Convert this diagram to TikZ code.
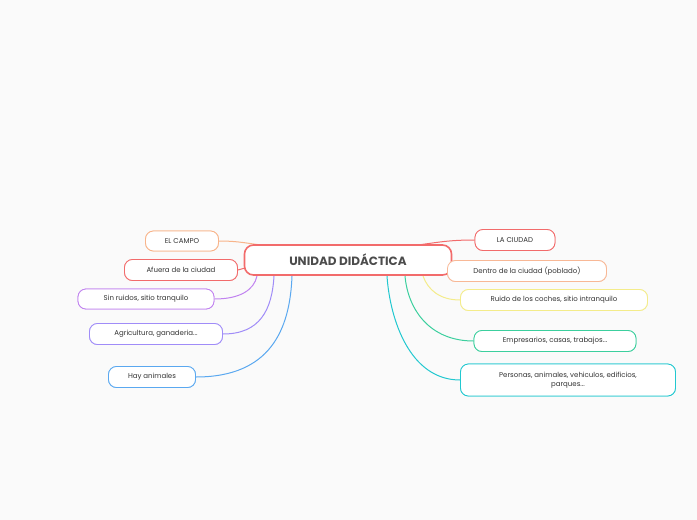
\documentclass[tikz,border=0pt]{standalone}
\usepackage{fontspec}
\setmainfont{Poppins}
\begin{document}
\begin{tikzpicture}[x=1pt,y=-1pt,
  box/.style={draw=#1,rounded corners=8pt,line width=0.8pt,fill=white,font=\fontsize{7}{8.5}\selectfont,text=black!80,inner sep=0pt,align=center},
  con/.style={draw=#1,line width=1pt}]
\fill[white!98!black] (0,0) rectangle (697,520);
\useasboundingbox (0,0) rectangle (697,520);
\definecolor{cred}{HTML}{F26B6B}
\definecolor{corange}{HTML}{F8B48A}
\definecolor{cpurple}{HTML}{C183F0}
\definecolor{cviolet}{HTML}{A08CF8}
\definecolor{cblue}{HTML}{5AA8F0}
\definecolor{cpeach}{HTML}{F8B896}
\definecolor{cyellow}{HTML}{F4EC8A}
\definecolor{cgreen}{HTML}{3CCF9E}
\definecolor{ccyan}{HTML}{22C8D0}
% connectors
\coordinate (c1) at (262,245);
\coordinate (c2) at (418,245);
\coordinate (c3) at (245,268);
\coordinate (c4) at (257,276);
\coordinate (c5) at (274,276);
\coordinate (c6) at (292,276);
\coordinate (c7) at (451,263);
\coordinate (c8) at (423,276);
\coordinate (c9) at (405,276);
\coordinate (c10) at (387,276);
\node[box=corange,minimum width=73pt,minimum height=20pt] (n1) at (182,241) {EL CAMPO};
\node[box=cred,minimum width=113pt,minimum height=21pt] (n2) at (181,270) {Afuera de la ciudad};
\node[box=cpurple,minimum width=136pt,minimum height=20pt] (n3) at (146,299) {Sin ruidos, sitio tranquilo};
\node[box=cviolet,minimum width=133pt,minimum height=21pt] (n4) at (156,334) {Agricultura, ganaderia...};
\node[box=cblue,minimum width=87pt,minimum height=21pt] (n5) at (152,377) {Hay animales};
\node[box=cred,minimum width=80pt,minimum height=21pt] (m1) at (515,240) {LA CIUDAD};
\node[box=cpeach,minimum width=159pt,minimum height=21pt] (m2) at (527,271) {Dentro de la ciudad (poblado)};
\node[box=cyellow,minimum width=187pt,minimum height=21pt] (m3) at (554,300) {Ruido de los coches, sitio intranquilo};
\node[box=cgreen,minimum width=162pt,minimum height=21pt] (m4) at (555,341) {Empresarios, casas, trabajos...};
\node[box=ccyan,minimum width=215pt,minimum height=32pt] (m5) at (568,380) {Personas, animales, vehiculos, edificios,\\parques...};
\begin{scope}[on background layer/.try]
\end{scope}
\draw[con=corange] (n1.east) .. controls (240,241) and (250,244) .. (c1);
\draw[con=cred] (m1.west) .. controls (450,240) and (440,242) .. (c2);
\draw[con=cred] (n2.east) -- (c3);
\draw[con=cpurple] (n3.east) .. controls (240,299) and (254,290) .. (c4);
\draw[con=cviolet] (n4.east) .. controls (260,334) and (272,310) .. (c5);
\draw[con=cblue] (n5.east) .. controls (270,377) and (290,330) .. (c6);
\draw[con=cpeach] (m2.west) .. controls (450,268) and (451,265) .. (c7);
\draw[con=cyellow] (m3.west) .. controls (440,300) and (428,290) .. (c8);
\draw[con=cgreen] (m4.west) .. controls (430,341) and (408,310) .. (c9);
\draw[con=ccyan] (m5.west) .. controls (410,380) and (390,320) .. (c10);
\node[draw=cred,rounded corners=9pt,line width=1.6pt,fill=white,minimum width=207pt,minimum height=30pt,font=\fontsize{12}{14}\bfseries\selectfont,text=black!70] (c) at (348,260) {UNIDAD DIDÁCTICA};
% redraw nodes on top of connectors
\node[box=corange,minimum width=73pt,minimum height=20pt] at (182,241) {EL CAMPO};
\node[box=cred,minimum width=113pt,minimum height=21pt] at (181,270) {Afuera de la ciudad};
\node[box=cpurple,minimum width=136pt,minimum height=20pt] at (146,299) {Sin ruidos, sitio tranquilo};
\node[box=cviolet,minimum width=133pt,minimum height=21pt] at (156,334) {Agricultura, ganaderia...};
\node[box=cblue,minimum width=87pt,minimum height=21pt] at (152,377) {Hay animales};
\node[box=cred,minimum width=80pt,minimum height=21pt] at (515,240) {LA CIUDAD};
\node[box=cpeach,minimum width=159pt,minimum height=21pt] at (527,271) {Dentro de la ciudad (poblado)};
\node[box=cyellow,minimum width=187pt,minimum height=21pt] at (554,300) {Ruido de los coches, sitio intranquilo};
\node[box=cgreen,minimum width=162pt,minimum height=21pt] at (555,341) {Empresarios, casas, trabajos...};
\node[box=ccyan,minimum width=215pt,minimum height=32pt] at (568,380) {Personas, animales, vehiculos, edificios,\\parques...};
\end{tikzpicture}
\end{document}
